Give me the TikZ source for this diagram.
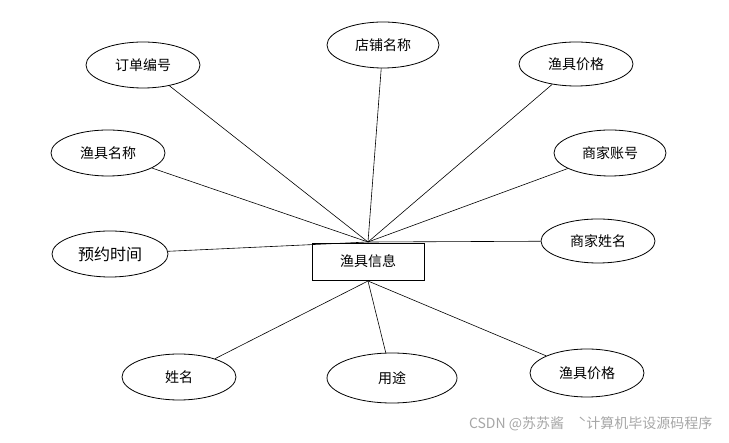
\documentclass[tikz,border=0pt]{standalone}
\usepackage{fontspec}
\setmainfont{Noto Sans CJK SC}
\usetikzlibrary{shapes.geometric}
\begin{document}
\begin{tikzpicture}[x=1pt,y=-1pt,
  attr/.style={ellipse,draw,line width=0.8pt,inner sep=0pt,font=\fontsize{14}{16}\selectfont},
  ent/.style={rectangle,draw,line width=0.8pt,minimum width=112pt,minimum height=37pt,font=\fontsize{14}{16}\selectfont},
  link/.style={line width=0.6pt}]
\useasboundingbox (0,0) rectangle (729,443);
\node[ent] (e) at (368,261.5) {渔具信息};
\coordinate (t) at (368,242);
\coordinate (b) at (368,281);
\node[attr,minimum width=114pt,minimum height=46pt] (a1) at (143,65) {订单编号};
\node[attr,minimum width=112pt,minimum height=46pt] (a2) at (383,45) {店铺名称};
\node[attr,minimum width=114pt,minimum height=44pt] (a3) at (576,64) {渔具价格};
\node[attr,minimum width=114pt,minimum height=46pt] (a4) at (108,153) {渔具名称};
\node[attr,minimum width=112pt,minimum height=46pt] (a5) at (610,153) {商家账号};
\node[attr,minimum width=116pt,minimum height=46pt,font=\fontsize{16}{18}\selectfont] (a6) at (110,254) {预约时间};
\node[attr,minimum width=114pt,minimum height=44pt] (a7) at (598,241) {商家姓名};
\node[attr,minimum width=114pt,minimum height=46pt] (a8) at (179,377) {姓名};
\node[attr,minimum width=130pt,minimum height=50pt] (a9) at (392,378) {用途};
\node[attr,minimum width=114pt,minimum height=48pt] (a10) at (587,373) {渔具价格};
\foreach \n in {a1,a2,a3,a4,a5,a6,a7} \draw[link] (\n) -- (t);
\foreach \n in {a8,a9,a10} \draw[link] (\n) -- (b);
\node[text=gray!70,font=\fontsize{14}{16}\selectfont,anchor=east] (wm) at (716,424) {CSDN @苏苏酱\quad ˋ计算机毕设源码程序};
\end{tikzpicture}
\end{document}
